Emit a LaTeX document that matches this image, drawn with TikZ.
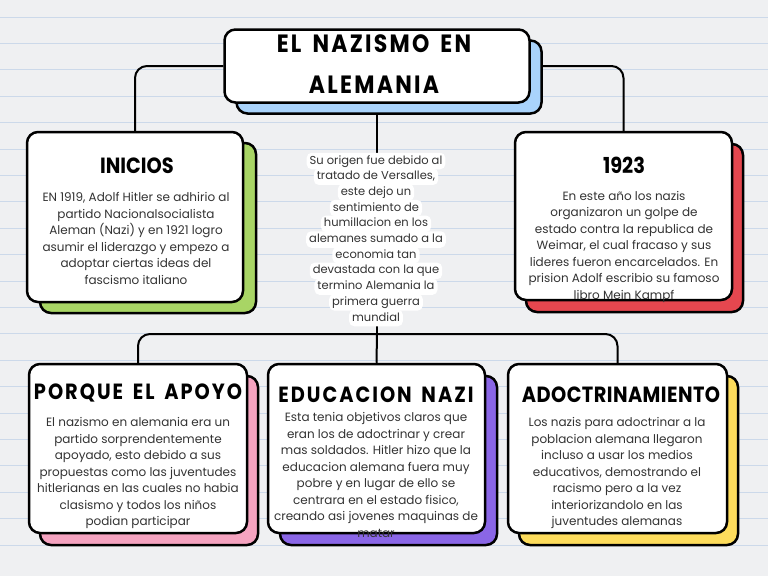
\documentclass[tikz,border=0pt]{standalone}
\usepackage{fontspec}
\setmainfont{Poppins}
\newfontfamily\headfont{Poppins}[FakeStretch=0.88]
\newfontfamily\headfontwide{Poppins}[FakeStretch=0.88, LetterSpace=9, WordSpace=1.6]
\newfontfamily\headfontmid{Poppins}[FakeStretch=0.88, LetterSpace=2]
\usetikzlibrary{backgrounds}
\definecolor{bgc}{HTML}{EFF0F2}
\definecolor{rulec}{HTML}{CCD9EA}
\definecolor{txt}{HTML}{333333}
\definecolor{cblue}{HTML}{A9D3FB}
\definecolor{cgreen}{HTML}{A8D565}
\definecolor{cred}{HTML}{E5474F}
\definecolor{cpink}{HTML}{F5A3C0}
\definecolor{cpurple}{HTML}{8A66E6}
\definecolor{cyellow}{HTML}{FDDC5C}
\tikzset{
  cardbox/.style={draw=black, line width=2.5pt, rounded corners=11pt, fill=white, inner sep=0pt},
  shadowbox/.style={cardbox, fill=#1},
  conn/.style={draw=black, line width=2pt, rounded corners=12pt},
  body/.style={align=center, font=\fontsize{12}{16.5}\selectfont, text=txt, inner sep=0pt},
  heading/.style={font=\headfont\bfseries\fontsize{22}{22}\selectfont, text=black, inner sep=0pt},
  headingwide/.style={font=\headfontwide\bfseries\fontsize{22}{22}\selectfont, text=black, inner sep=0pt},
  headingmid/.style={font=\headfontmid\bfseries\fontsize{22}{22}\selectfont, text=black, inner sep=0pt},
  titletext/.style={font=\headfontwide\bfseries\fontsize{25}{25}\selectfont, text=black, inner sep=0pt},
  hl/.style={fill=white, rounded corners=5pt, inner xsep=3pt, inner ysep=0pt, text height=8.5pt, text depth=2.5pt, minimum height=16.5pt, font=\fontsize{11.5}{14}\selectfont, text=txt},
}
\begin{document}
\begin{tikzpicture}[x=1pt,y=-1pt]
\useasboundingbox (0,0) rectangle (768,576);
\begin{scope}[on background layer]
  \fill[bgc] (0,0) rectangle (768,576);
  \foreach \k in {0,...,20} \draw[rulec, line width=1pt] (0,17+26.4*\k) -- (768,17+26.4*\k);
\end{scope}

% title
\node[shadowbox=cblue, minimum width=305pt, minimum height=73pt] (titlesh) at (389,77) {};
\node[cardbox, minimum width=305pt, minimum height=73pt] (title) at (377,66) {};
\node[titletext] (t1) at (374,44) {EL NAZISMO EN};
\node[titletext] (t2) at (374,85) {ALEMANIA};

% row 1
\node[shadowbox=cgreen, minimum width=216pt, minimum height=170pt] (inisw) at (148,228) {};
\node[cardbox, minimum width=216pt, minimum height=170pt] (inicios) at (135,217) {};
\node[heading] (inih) at (137,166) {INICIOS};
\node[body] (inib) at (136,238.5) {EN 1919, Adolf Hitler se adhirio al\\partido Nacionalsocialista\\Aleman (Nazi) y en 1921 logro\\asumir el liderazgo y empezo a\\adoptar ciertas ideas del\\fascismo italiano};

\node[shadowbox=cred, minimum width=217pt, minimum height=168pt] (y23sh) at (634.5,228) {};
\node[cardbox, minimum width=217pt, minimum height=168pt] (y1923) at (623.5,216) {};
\node[heading] (y23h) at (624,165) {1923};
\node[body] (y23b) at (624,246.5) {En este año los nazis\\organizaron un golpe de\\estado contra la republica de\\Weimar, el cual fracaso y sus\\lideres fueron encarcelados. En\\prision Adolf escribio su famoso\\libro Mein Kampf};

% centre text
\node[hl] (c1) at (376,161) {Su origen fue debido al};
\node[hl] (c2) at (376,176.7) {tratado de Versalles,};
\node[hl] (c3) at (376,192.4) {este dejo un};
\node[hl] (c4) at (376,208.1) {sentimiento de};
\node[hl] (c5) at (376,223.8) {humillacion en los};
\node[hl] (c6) at (376,239.5) {alemanes sumado a la};
\node[hl] (c7) at (376,255.2) {economia tan};
\node[hl] (c8) at (376,270.9) {devastada con la que};
\node[hl] (c9) at (376,286.6) {termino Alemania la};
\node[hl] (c10) at (376,302.3) {primera guerra};
\node[hl] (c11) at (376,318) {mundial};

% row 2
\node[shadowbox=cpink, minimum width=218pt, minimum height=169pt] (pqsh) at (149,460.5) {};
\node[cardbox, minimum width=218pt, minimum height=169pt] (porque) at (138,448.5) {};
\node[headingwide] (pqh) at (138,393) {PORQUE EL APOYO};
\node[body] (pqb) at (138,473) {El nazismo en alemania era un\\partido sorprendentemente\\apoyado, esto debido a sus\\propuestas como las juventudes\\hitlerianas en las cuales no habia\\clasismo y todos los niños\\podian participar};

\node[shadowbox=cpurple, minimum width=217pt, minimum height=169pt] (edsh) at (388.5,460.5) {};
\node[cardbox, minimum width=217pt, minimum height=169pt] (educ) at (376.5,448.5) {};
\node[headingwide] (edh) at (376,395) {EDUCACION NAZI};
\node[body] (edb) at (376,475) {Esta tenia objetivos claros que\\eran los de adoctrinar y crear\\mas soldados. Hitler hizo que la\\educacion alemana fuera muy\\pobre y en lugar de ello se\\centrara en el estado fisico,\\creando asi jovenes maquinas de\\matar};

\node[shadowbox=cyellow, minimum width=219pt, minimum height=169pt] (adsh) at (628.5,460.5) {};
\node[cardbox, minimum width=219pt, minimum height=169pt] (adoc) at (617.5,448.5) {};
\node[headingmid] (adh) at (621,395) {ADOCTRINAMIENTO};
\node[body] (adb) at (617,473) {Los nazis para adoctrinar a la\\poblacion alemana llegaron\\incluso a usar los medios\\educativos, demostrando el\\racismo pero a la vez\\interiorizandolo en las\\juventudes alemanas};

% connectors
\coordinate (bar) at (377,334);
\begin{scope}[on background layer]
  \draw[conn] (title.west) -| (inicios.north);
  \draw[conn] (title.east) -| (y1923.north);
  \draw[conn] (title.south) -- (bar);
  \draw[conn] (porque.north) |- (bar) -| (adoc.north);
  \draw[conn] (bar) -- (educ.north);
\end{scope}
\end{tikzpicture}
\end{document}
